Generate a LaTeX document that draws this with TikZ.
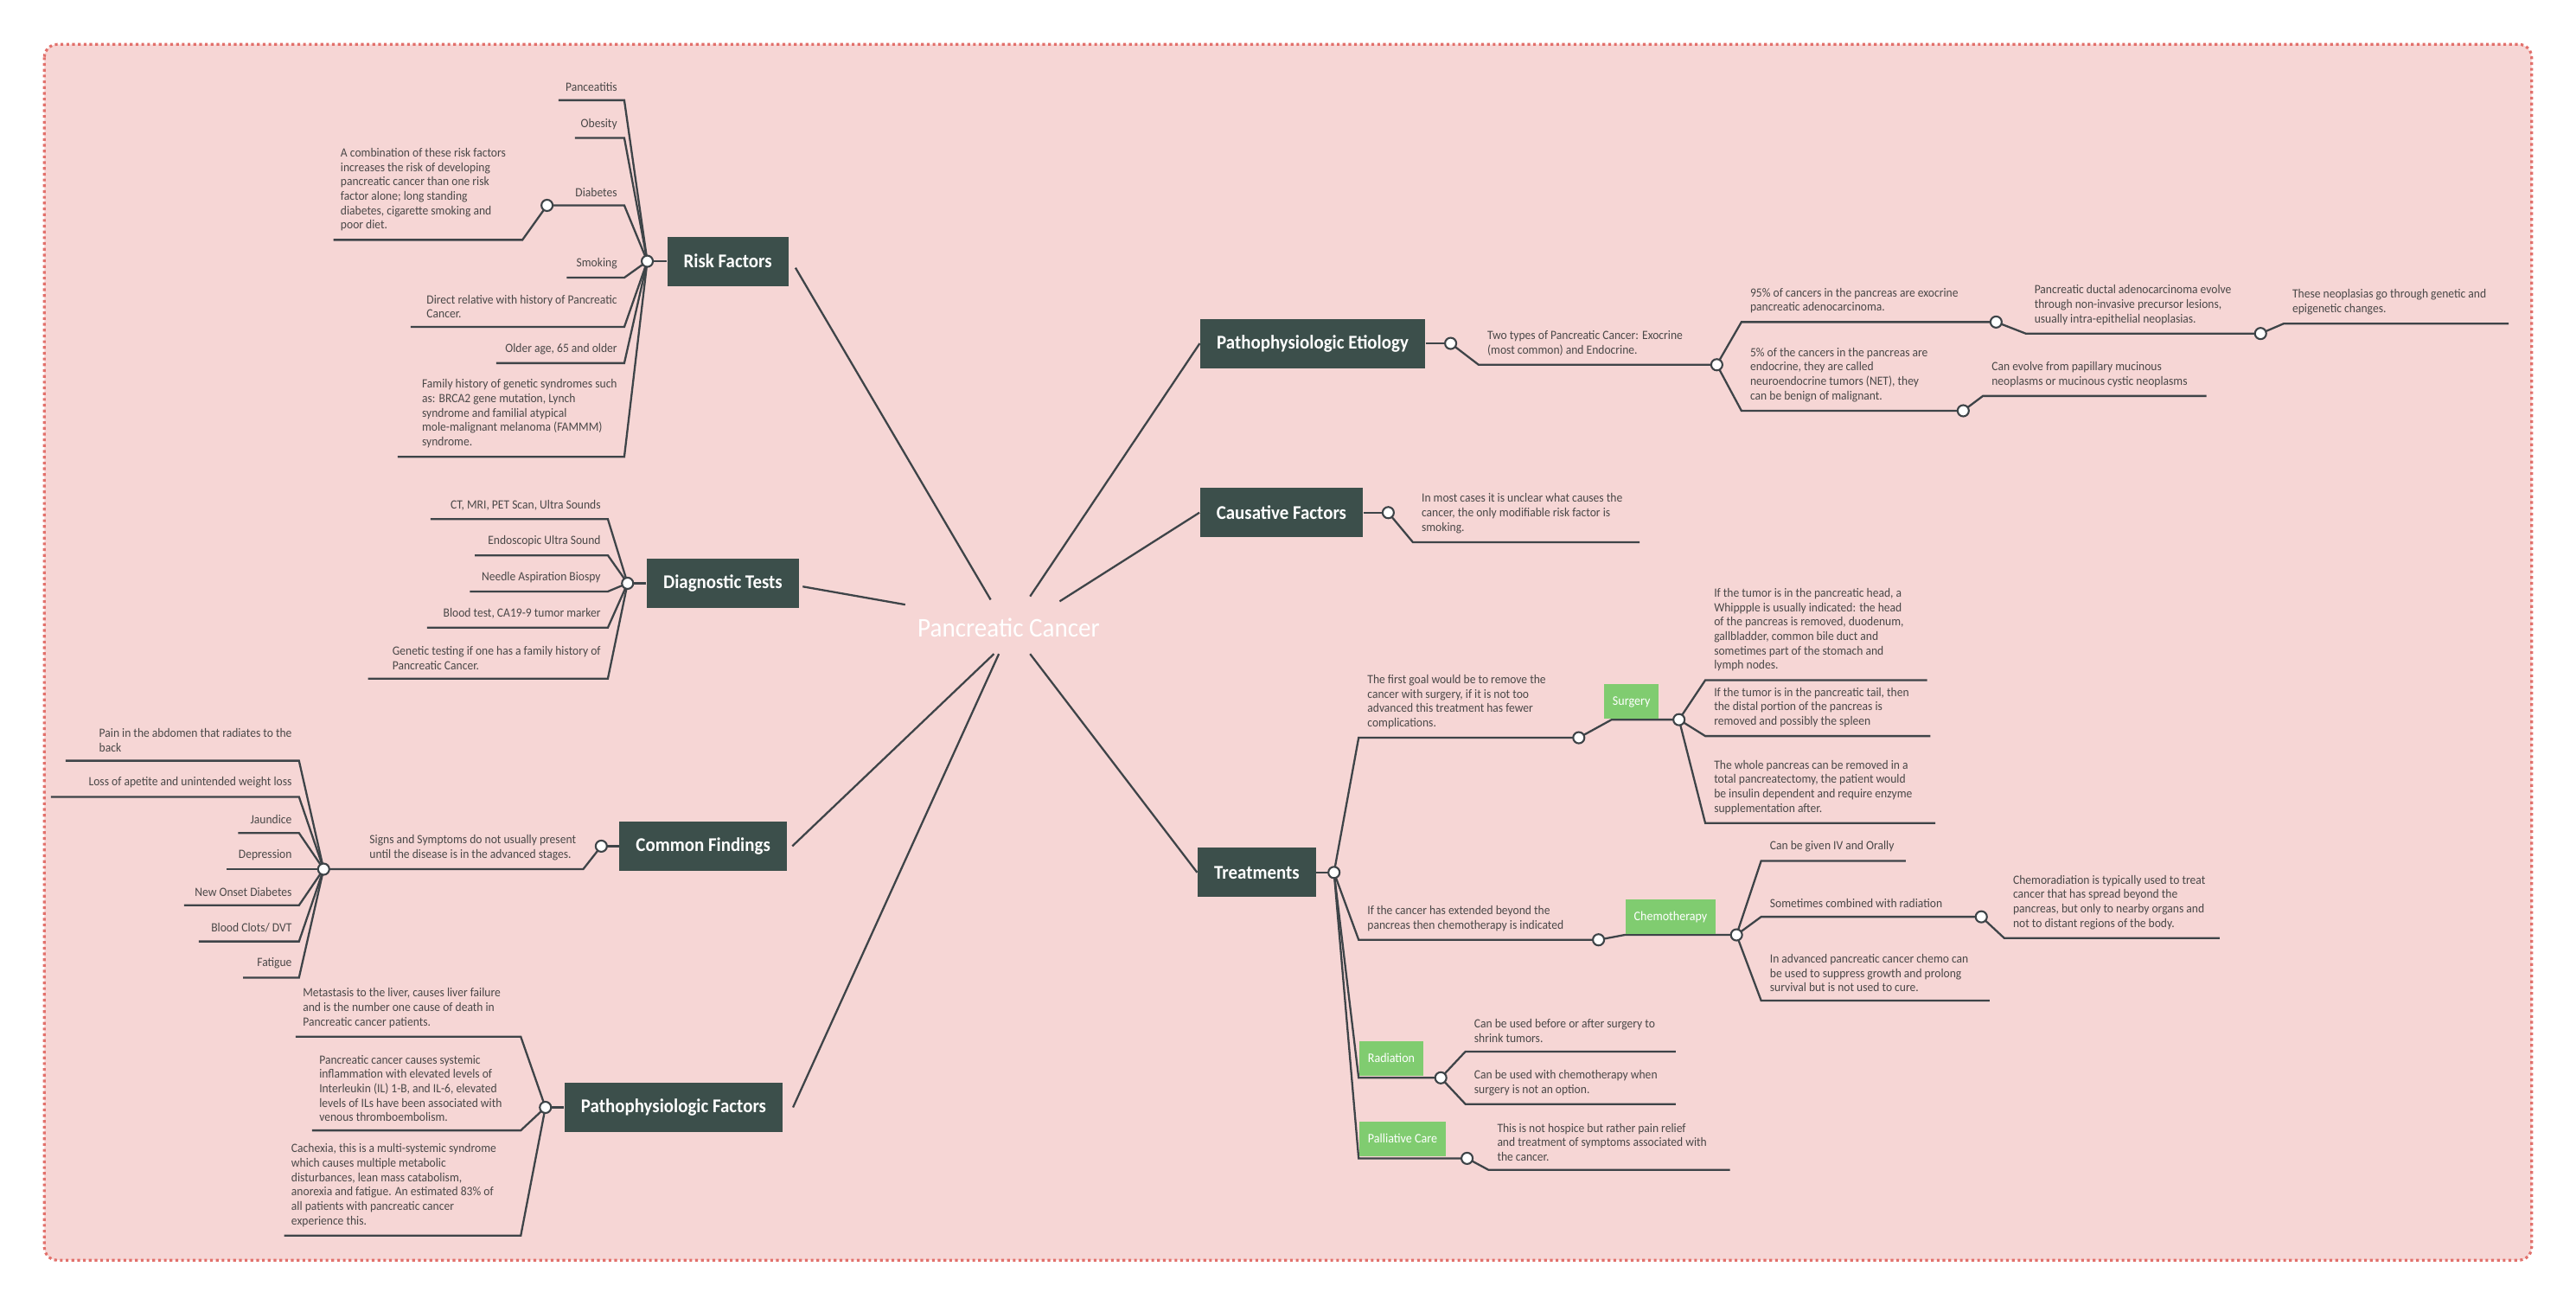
\documentclass[tikz,border=0pt]{standalone}
\usepackage{fontspec}
\setmainfont[FakeStretch=0.93]{Carlito}
\usetikzlibrary{calc}
\definecolor{bg}{HTML}{F6D6D5}
\definecolor{bord}{HTML}{E2706B}
\definecolor{lnc}{HTML}{3E4448}
\definecolor{boxc}{HTML}{3C4F4B}
\definecolor{grn}{HTML}{80CC70}
\definecolor{txtc}{HTML}{4A4848}
\tikzset{
 ln/.style={draw=lnc,line width=0.65pt},
 hub/.style={circle,draw=lnc,fill=white,line width=0.6pt,inner sep=0pt,minimum size=0.13cm},
 lt/.style={font=\fontsize{4.15}{4.75}\selectfont,text=txtc,inner sep=0pt,align=left},
 mbox/.style={fill=boxc,text=white,font=\fontsize{6.4}{7}\selectfont\bfseries,inner xsep=0.19cm,minimum height=0.57cm},
 gbox/.style={fill=grn,text=white,font=\fontsize{4.3}{5}\selectfont,inner xsep=0.1cm,minimum height=0.4cm},
}
\newcommand\lfL[6]{\coordinate (#1j) at (#3,#4);\coordinate (#1e) at (#5,#4);\draw[ln] (#2)--(#1j)--(#1e);\node[lt,anchor=south east] (#1) at ($(#1j)+(-4,-5)$) {#6};}
\newcommand\lfLw[6]{\coordinate (#1j) at (#3,#4);\coordinate (#1e) at (#5,#4);\draw[ln] (#2)--(#1j)--(#1e);\node[lt,anchor=south west] (#1) at ($(#1e)+(4,-5)$) {#6};}
\newcommand\lfR[6]{\coordinate (#1j) at (#3,#4);\coordinate (#1e) at (#5,#4);\draw[ln] (#2)--(#1j)--(#1e);\node[lt,anchor=south west] (#1) at ($(#1j)+(5,-5)$) {#6};}
\begin{document}
\begin{tikzpicture}[x=0.019cm,y=-0.019cm]
\useasboundingbox (0,0) rectangle (1568,794);
\draw[densely dotted,line width=0.9pt,draw=bord,fill=bg,rounded corners=0.15cm] (27,27) rectangle (1541,767);
% center
\node[text=white,font=\fontsize{8.9}{9.5}\selectfont] (PC) at (614,382) {Pancreatic Cancer};
% main boxes
\node[mbox] (RF) at (443,159) {Risk Factors};
\node[mbox] (DT) at (440,355) {Diagnostic Tests};
\node[mbox] (CF) at (428,515) {Common Findings};
\node[mbox] (PF) at (410,674) {Pathophysiologic Factors};
\node[mbox] (PE) at (799,209) {Pathophysiologic Etiology};
\node[mbox] (CA) at (780,312) {Causative Factors};
\node[mbox] (TR) at (765,531) {Treatments};
% center connectors
\coordinate (c1) at (603,365);\coordinate (c2) at (551,368);\coordinate (c3) at (605,398);
\coordinate (c4) at (608,398);\coordinate (c5) at (627,363);\coordinate (c6) at (645,366);\coordinate (c7) at (627,398);
\draw[ln] ($(RF.east)+(4,4)$) -- (c1);
\draw[ln] ($(DT.east)+(2,2)$) -- (c2);
\draw[ln] ($(CF.east)+(3,0)$) -- (c3);
\draw[ln] ($(PF.east)+(6,0)$) -- (c4);
\draw[ln] (PE.west) -- (c5);
\draw[ln] (CA.west) -- (c6);
\draw[ln] (TR.west) -- (c7);
% hubs coords
\coordinate (hRF) at (394,159);\coordinate (hrf3) at (333,125);
\coordinate (hDT) at (382,355);\coordinate (hCF) at (366,515);\coordinate (hCF2) at (197,529);
\coordinate (hPF) at (332,674);
\coordinate (hPE) at (883,209);\coordinate (hPE2) at (1045,222);\coordinate (hPE3) at (1215,196);
\coordinate (hPE4) at (1376,203);\coordinate (hPE5) at (1195,250);
\coordinate (hCa) at (845,312);
\coordinate (hTr) at (812,531);\coordinate (hS1) at (961,449);\coordinate (hS) at (1022,438);
\coordinate (hC1) at (973,572);\coordinate (hC) at (1057,569);\coordinate (hC2) at (1206,558);
\coordinate (hR) at (877,656);\coordinate (hP) at (893,705);
\draw[ln] (RF.west)--(hRF);\draw[ln] (DT.west)--(hDT);\draw[ln] (CF.west)--(hCF);\draw[ln] (PF.west)--(hPF);
\draw[ln] (PE.east)--(hPE);\draw[ln] (CA.east)--(hCa);\draw[ln] (TR.east)--(hTr);
% Risk factors
\lfL{rf1}{hRF}{380}{61}{340}{Panceatitis}
\lfL{rf2}{hRF}{380}{84}{350}{Obesity}
\lfL{rf3}{hRF}{380}{125}{333}{Diabetes}
\lfLw{rf3a}{hrf3}{318}{146}{203}{A combination of these risk factors\\increases the risk of developing\\pancreatic cancer than one risk\\factor alone; long standing\\diabetes, cigarette smoking and\\poor diet.}
\lfL{rf4}{hRF}{380}{169}{345}{Smoking}
\lfL{rf5}{hRF}{380}{199}{250}{Direct relative with history of Pancreatic\\Cancer.}
\lfL{rf6}{hRF}{380}{221}{302}{Older age, 65 and older}
\lfL{rf7}{hRF}{380}{278}{242}{Family history of genetic syndromes such\\as: BRCA2 gene mutation, Lynch\\syndrome and familial atypical\\mole-malignant melanoma (FAMMM)\\syndrome.}
% Diagnostic
\lfL{dt1}{hDT}{370}{316}{262}{CT, MRI, PET Scan, Ultra Sounds}
\lfL{dt2}{hDT}{370}{338}{289}{Endoscopic Ultra Sound}
\lfL{dt3}{hDT}{370}{360}{286}{Needle Aspiration Biospy}
\lfL{dt4}{hDT}{370}{382}{260}{Blood test, CA19-9 tumor marker}
\lfL{dt5}{hDT}{370}{413}{224}{Genetic testing if one has a family history of\\Pancreatic Cancer.}
% Common findings
\lfL{cf0}{hCF}{355}{529}{197}{Signs and Symptoms do not usually present\\until the disease is in the advanced stages.}
\lfL{cf1}{hCF2}{182}{463}{40}{Pain in the abdomen that radiates to the\\back}
\lfL{cf2}{hCF2}{182}{485}{31}{Loss of apetite and unintended weight loss}
\lfL{cf3}{hCF2}{182}{507}{145}{Jaundice}
\lfL{cf4}{hCF2}{182}{529}{138}{Depression}
\lfL{cf5}{hCF2}{182}{551}{112}{New Onset Diabetes}
\lfL{cf6}{hCF2}{182}{573}{121}{Blood Clots/ DVT}
\lfL{cf7}{hCF2}{182}{595}{148}{Fatigue}
% Pathophysiologic factors
\lfLw{pf1}{hPF}{317}{631}{180}{Metastasis to the liver, causes liver failure\\and is the number one cause of death in\\Pancreatic cancer patients.}
\lfLw{pf2}{hPF}{317}{688}{190}{Pancreatic cancer causes systemic\\inflammation with elevated levels of\\Interleukin (IL) 1-B, and IL-6, elevated\\levels of ILs have been associated with\\venous thromboembolism.}
\lfLw{pf3}{hPF}{317}{752}{173}{Cachexia, this is a multi-systemic syndrome\\which causes multiple metabolic\\disturbances, lean mass catabolism,\\anorexia and fatigue. An estimated 83\% of\\all patients with pancreatic cancer\\experience this.}
% Etiology
\lfR{pe0}{hPE}{900}{222}{1045}{Two types of Pancreatic Cancer: Exocrine\\(most common) and Endocrine.}
\lfR{pe1}{hPE2}{1060}{196}{1215}{95\% of cancers in the pancreas are exocrine\\pancreatic adenocarcinoma.}
\lfR{pe2}{hPE3}{1233}{203}{1376}{Pancreatic ductal adenocarcinoma evolve\\through non-invasive precursor lesions,\\usually intra-epithelial neoplasias.}
\lfR{pe3}{hPE4}{1390}{197}{1527}{These neoplasias go through genetic and\\epigenetic changes.}
\lfR{pe4}{hPE2}{1060}{250}{1195}{5\% of the cancers in the pancreas are\\endocrine, they are called\\neuroendocrine tumors (NET), they\\can be benign of malignant.}
\lfR{pe5}{hPE5}{1207}{241}{1343}{Can evolve from papillary mucinous\\neoplasms or mucinous cystic neoplasms}
% Causative
\lfR{ca1}{hCa}{860}{330}{998}{In most cases it is unclear what causes the\\cancer, the only modifiable risk factor is\\smoking.}
% Treatments
\lfR{tr1}{hTr}{827}{449}{961}{The first goal would be to remove the\\cancer with surgery, if it is not too\\advanced this treatment has fewer\\complications.}
\coordinate (sa) at (981,438);
\draw[ln] (hS1)--(sa)--(hS);
\node[gbox,anchor=south west] (SU) at (976,438) {Surgery};
\lfR{s1}{hS}{1038}{414}{1173}{If the tumor is in the pancreatic head, a\\Whippple is usually indicated: the head\\of the pancreas is removed, duodenum,\\gallbladder, common bile duct and\\sometimes part of the stomach and\\lymph nodes.}
\lfR{s2}{hS}{1038}{448}{1175}{If the tumor is in the pancreatic tail, then\\the distal portion of the pancreas is\\removed and possibly the spleen}
\lfR{s3}{hS}{1038}{501}{1178}{The whole pancreas can be removed in a\\total pancreatectomy, the patient would\\be insulin dependent and require enzyme\\supplementation after.}
\lfR{tr2}{hTr}{827}{572}{973}{If the cancer has extended beyond the\\pancreas then chemotherapy is indicated}
\coordinate (ca) at (989,569);
\draw[ln] (hC1)--(ca)--(hC);
\node[gbox,anchor=south west] (CH) at (989,569) {Chemotherapy};
\lfR{c1}{hC}{1072}{524}{1160}{Can be given IV and Orally}
\lfR{c2}{hC}{1072}{558}{1206}{Sometimes combined with radiation}
\lfR{c3}{hC2}{1220}{571}{1351}{Chemoradiation is typically used to treat\\cancer that has spread beyond the\\pancreas, but only to nearby organs and\\not to distant regions of the body.}
\lfR{c4}{hC}{1072}{609}{1211}{In advanced pancreatic cancer chemo can\\be used to suppress growth and prolong\\survival but is not used to cure.}
\coordinate (ra) at (827,656);
\draw[ln] (hTr)--(ra)--(hR);
\node[gbox,anchor=south west] (RA) at (827,655) {Radiation};
\lfR{r1}{hR}{892}{640}{1020}{Can be used before or after surgery to\\shrink tumors.}
\lfR{r2}{hR}{892}{672}{1020}{Can be used with chemotherapy when\\surgery is not an option.}
\coordinate (pa) at (827,705);
\draw[ln] (hTr)--(pa)--(hP);
\node[gbox,anchor=south west] (PA) at (827,704) {Palliative Care};
\lfR{p1}{hP}{906}{712}{1053}{This is not hospice but rather pain relief\\and treatment of symptoms associated with\\the cancer.}
% hub circles
\foreach \h in {hRF,hrf3,hDT,hCF,hCF2,hPF,hPE,hPE2,hPE3,hPE4,hPE5,hCa,hTr,hS1,hS,hC1,hC,hC2,hR,hP}
  \node[hub] (n\h) at (\h) {};
\end{tikzpicture}
\end{document}
